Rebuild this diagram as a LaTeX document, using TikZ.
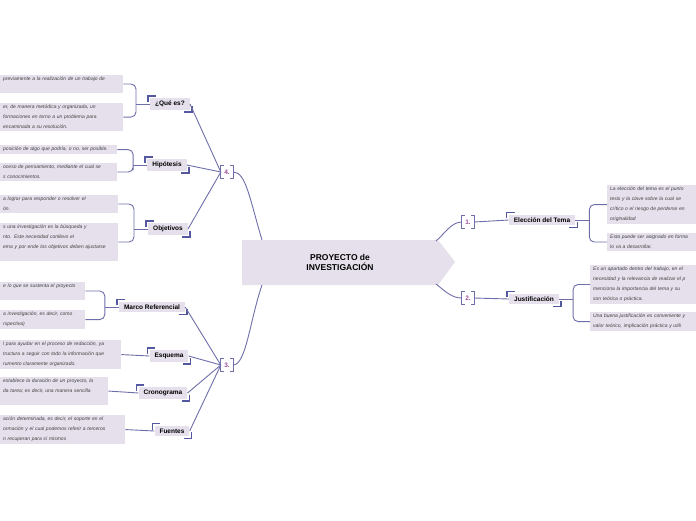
\documentclass[tikz,border=0pt]{standalone}
\usepackage{fontspec}
\setmainfont{Liberation Sans}
\usetikzlibrary{calc}
\definecolor{lav}{HTML}{E6E0EC}
\definecolor{conn}{HTML}{6E6EAA}
\definecolor{corner}{HTML}{5458A0}
\definecolor{numc}{HTML}{9B4F96}
\tikzset{
 cl/.style={draw=conn, line width=0.9pt},
 topic/.style={fill=lav, font=\fontsize{6.5}{7}\selectfont\bfseries, inner xsep=5pt, inner ysep=3pt},
 child/.style={fill=lav, font=\fontsize{5}{10}\selectfont\itshape\color{black!75}, align=left, inner xsep=3pt, inner ysep=2pt, anchor=north west},
 num/.style={font=\fontsize{6.5}{7}\selectfont\bfseries\color{numc}, inner sep=2pt, minimum width=12pt, minimum height=12pt},
}
\newcommand{\crn}[1]{\draw[corner, line width=1.6pt] ([xshift=-2pt,yshift=-4pt]#1.north west) |- ([xshift=6pt,yshift=2pt]#1.north west);
 \draw[corner, line width=1.6pt] ([xshift=2pt,yshift=4pt]#1.south east) |- ([xshift=-6pt,yshift=-2pt]#1.south east);}
\newcommand{\brk}[1]{\draw[conn, line width=0.7pt] ([xshift=3pt]#1.north west) -- (#1.north west) -- (#1.south west) -- ++(3pt,0);
 \draw[conn, line width=0.7pt] ([xshift=-3pt]#1.north east) -- (#1.north east) -- (#1.south east) -- ++(-3pt,0);}
\begin{document}
\begin{tikzpicture}[x=1pt,y=-1pt]
\useasboundingbox (0,0) rectangle (696,520);
\clip (0,0) rectangle (696,520);
% center
\fill[lav] (242,240) -- (438,240) -- (455,262) -- (438,285) -- (242,285) -- cycle;
\node[font=\fontsize{8.5}{10}\selectfont\bfseries, align=center] (c) at (340,262) {PROYECTO de\\INVESTIGACIÓN};
\coordinate (ctl) at (262,240);
\coordinate (cbl) at (262,285);
\coordinate (ctr) at (436,241);
\coordinate (cbr) at (436,284);
% numbers
\node[num] (n4) at (227,172) {4.};
\node[num] (n3) at (227,365) {3.};
\node[num] (n1) at (468,222) {1.};
\node[num] (n2) at (468,298) {2.};
\brk{n4}\brk{n3}\brk{n1}\brk{n2}
\draw[cl] (n4.east) .. controls (246,172) and (250,200) .. (ctl);
\draw[cl] (n3.east) .. controls (246,365) and (250,320) .. (cbl);
\draw[cl] (n1.west) .. controls (452,222) and (446,232) .. (ctr);
\draw[cl] (n2.west) .. controls (452,298) and (446,292) .. (cbr);
% topics
\node[topic] (qe) at (170,104) {¿Qué es?};
\node[topic] (hi) at (167,165) {Hipótesis};
\node[topic] (ob) at (168,229) {Objetivos};
\node[topic] (mr) at (152,307) {Marco Referencial};
\node[topic] (es) at (169,356) {Esquema};
\node[topic] (cr2) at (163,393) {Cronograma};
\node[topic] (fu) at (172,431) {Fuentes};
\node[topic] (et) at (542,220) {Elección del Tema};
\node[topic] (ju) at (534,299) {Justificación};
\foreach \t in {qe,hi,ob,mr,es,cr2,fu,et,ju}{\crn{\t}}
\foreach \t in {qe,hi,ob}{\draw[cl] (n4.west) -- (\t.east);}
\foreach \t in {mr,es,cr2,fu}{\draw[cl] (n3.west) -- (\t.east);}
\draw[cl] (n1.east) -- (et.west);
\draw[cl] (n2.east) -- (ju.west);
% children left
\node[child, text width=117pt] (q1) at (0,75) {previamente a la realización de un trabajo de\\\phantom{x}};
\node[child, text width=117pt] (q2) at (0,103) {er, de manera metódica y organizada, un\\formaciones en torno a un problema para\\ encaminada a su resolución.};
\node[child, text width=111pt] (h1) at (0,145) {posición de algo que podría, o no, ser posible.};
\node[child, text width=111pt] (h2) at (0,163) {oceso de pensamiento, mediante el cual se\\s conocimientos.};
\node[child, text width=112pt] (o1) at (0,195) {a lograr para responder o resolver el\\ón.};
\node[child, text width=112pt] (o2) at (0,223) {s una investigación es la búsqueda y\\nto. Este necesidad conllevo el\\ema y por ende los objetivos deben ajustarse\\\phantom{x}};
\node[child, text width=79pt] (m1) at (0,282) {e lo que se sustenta el proyecto\\\phantom{x}};
\node[child, text width=79pt] (m2) at (0,310) {a investigación, es decir, como\\rspectiva)};
\node[child, text width=115pt] (e1) at (0,340) {l para ayudar en el proceso de redacción, ya\\tructura a seguir con todo la información que\\rumento claramente organizado.};
\node[child, text width=102pt] (k1) at (0,377) {establece la duración de un proyecto, la\\da tarea; es decir, una manera sencilla\\\phantom{x}};
\node[child, text width=119pt] (f1) at (0,415) {ación determinada, es decir, el soporte en el\\ormación y el cual podemos referir a terceros\\n recuperan para sí mismos};
\newcommand{\lbr}[3]{\draw[cl, rounded corners=5pt] (#2.east) -| ($(#1.west)+(-14pt,0)$) |- (#3.east); \draw[cl] (#1.west) -- ++(-14pt,0);}
\lbr{qe}{q1}{q2}\lbr{hi}{h1}{h2}\lbr{ob}{o1}{o2}\lbr{mr}{m1}{m2}
\draw[cl] (es.west) -- (e1.east);
\draw[cl] (cr2.west) -- (k1.east);
\draw[cl] (fu.west) -- (f1.east);
% children right
\node[child, text width=86pt] (r1) at (607,185) {La elección del tema es el punto\\tesis y la clave sobre la cual se\\crítico o el riesgo de perderse en\\originalidad};
\node[child, text width=86pt] (r2) at (607,233) {Esta puede ser asignado en forma\\lo va a desarrollar.};
\node[child, text width=103pt] (j1) at (590,265) {Es un apartado dentro del trabajo, en el\\necesidad y la relevancia de realizar el p\\menciona la importancia del tema y su\\son teórica o práctica.};
\node[child, text width=103pt] (j2) at (590,312) {Una buena justificación es conveniente y\\valor teórico, implicación práctica y utili};
\newcommand{\rbr}[3]{\draw[cl, rounded corners=5pt] (#2.west) -| ($(#1.east)+(14pt,0)$) |- (#3.west); \draw[cl] (#1.east) -- ++(14pt,0);}
\rbr{et}{r1}{r2}\rbr{ju}{j1}{j2}
\end{tikzpicture}
\end{document}
